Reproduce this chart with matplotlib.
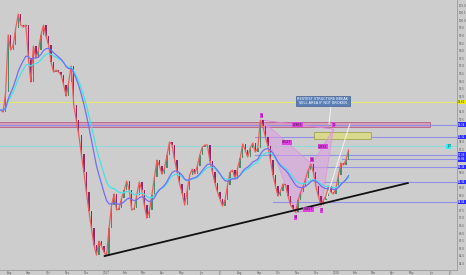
import numpy as np
import pandas as pd
import matplotlib
matplotlib.use('Agg')
import matplotlib.pyplot as plt
import matplotlib.dates as mdates
import matplotlib.transforms as mtrans
from matplotlib.patches import Rectangle, Polygon

# closes every 4 days
closes = [94.09, 93.96, 95.28, 99.03, 98.04, 98.37, 99.49, 100.41, 99.68, 99.55,
          99.68, 97.51, 95.93, 98.30, 97.51, 98.04, 99.03, 99.68, 98.96, 98.37,
          97.25, 96.59, 96.72, 96.59, 96.39, 95.74, 95.01, 95.93, 96.99, 94.42,
          93.43, 92.45, 91.20, 90.01, 88.70, 87.45, 86.33, 85.21, 84.55, 85.47,
          85.14, 84.75, 84.49, 86.33, 87.84, 88.57, 87.51, 87.64, 88.30, 88.83,
          89.42, 88.83, 87.51, 87.64, 88.50, 89.36, 88.83, 87.84, 86.99, 87.51,
          88.50, 89.68, 90.80, 90.41, 89.88, 90.28, 91.13, 91.99, 91.79, 90.80,
          90.01, 89.22, 88.63, 87.84, 88.83, 89.82, 90.21, 89.88, 90.41, 91.13,
          91.66, 91.79, 91.79, 90.74, 90.01, 89.29, 88.70, 88.24, 87.78, 88.17,
          89.16, 90.01, 90.14, 89.55, 90.28, 90.93, 91.86, 91.46, 91.00, 91.59,
          91.92, 91.33, 91.59, 93.43, 93.04, 92.32, 91.72, 90.80, 89.82, 89.09,
          88.43, 88.76, 89.22, 89.16, 88.43, 87.84, 87.58, 87.38, 88.17, 88.70,
          89.09, 89.62, 90.14, 90.54, 90.01, 89.09, 88.43, 87.84, 88.17, 88.43,
          89.09, 88.70, 88.57, 88.96, 89.82, 90.61, 90.47, 90.80, 91.46]
start_date = '2016-07-18'

yellow_level = 94.62
cyan_level = 91.72
band = (92.97, 93.30, '2016-07-10', '2018-05-30')
blue_levels = [93.14, 92.32, 91.16, 90.84, 90.34, 89.36, 88.04]
blue_starts = ['2016-07-10', '2017-08-25', '2017-08-25', '2018-01-10',
               '2017-11-24', '2017-12-11', '2017-09-23']

# harmonic pattern X A B C D
pat_names = ['X', 'A', 'B', 'C', 'D']
pat_dates = ['2017-09-05', '2017-10-29', '2017-11-24', '2017-12-09', '2017-12-28']
pat_prices = [93.43, 87.32, 90.54, 87.78, 92.84]

zone = ('2017-11-27', '2018-02-25', 92.18, 92.64)
trend = (['2016-12-30', '2018-04-25'], [84.49, 89.29])
pointer = (['2017-12-24', '2017-12-21'], [94.36, 93.17])
arrow2 = (['2018-01-23', '2017-12-17'], [93.17, 88.30])
note = ('2017-12-11', 94.68, 'RESTEST STRUCTURE BREAK\nSELL AREA IF NOT BROKEN')

month_labels = ['Aug', 'Sep', 'Oct', 'Nov', 'Dec', '2017', 'Feb', 'Mar', 'Apr', 'May',
                'Jun', 'Jul', 'Aug', 'Sep', 'Oct', 'Nov', 'Dec', '2018', 'Feb', 'Mar',
                'Apr', 'May', 'Jun', 'Jul']


def dn(s):
    return mdates.date2num(pd.Timestamp(s).to_pydatetime())


bg = '#cdcdcd'
fig = plt.figure(figsize=(4.66, 2.75), dpi=100, facecolor=bg)
ax = fig.add_axes([0, 5 / 275, 457 / 466, 270 / 275], facecolor=bg)

dates = pd.date_range(start_date, periods=len(closes), freq='4D')
xd = mdates.date2num(dates.to_pydatetime())
c = np.array(closes)
o = np.r_[c[0], c[:-1]]

x0, x1 = dn('2016-07-17'), dn('2018-07-12')

# horizontal levels
ax.axhline(yellow_level, color='#e8e860', lw=0.7, zorder=1)
ax.axhline(cyan_level, color='#7ee0e0', lw=0.6, zorder=1)
ax.add_patch(Rectangle((dn(band[2]), band[0]), dn(band[3]) - dn(band[2]), band[1] - band[0],
                       facecolor='#d4a0b4', edgecolor='#b86c8c', lw=0.7, zorder=1))
for lv, st in zip(blue_levels, blue_starts):
    ax.plot([dn(st), x1], [lv, lv], color='#9090e8', lw=0.8, zorder=1)

# yellow zone
ax.add_patch(Rectangle((dn(zone[0]), zone[2]), dn(zone[1]) - dn(zone[0]), zone[3] - zone[2],
                       facecolor='#d9d98e', edgecolor='#a8a860', lw=0.7, zorder=2))

# harmonic pattern
px = [dn(d) for d in pat_dates]
pp = pat_prices
ax.add_patch(Polygon([(px[0], pp[0]), (px[1], pp[1]), (px[2], pp[2])], closed=True,
                     facecolor='#dca0e0', edgecolor='#e080e0', alpha=0.6, lw=0.6, zorder=2))
ax.add_patch(Polygon([(px[2], pp[2]), (px[3], pp[3]), (px[4], pp[4])], closed=True,
                     facecolor='#dca0e0', edgecolor='#e080e0', alpha=0.6, lw=0.6, zorder=2))
for a, b in [(0, 4), (1, 3)]:
    ax.plot([px[a], px[b]], [pp[a], pp[b]], color='#e080e0', lw=0.6, zorder=2)

xa = pp[0] - pp[1]
ab = pp[2] - pp[1]
bc = pp[2] - pp[3]
cd = pp[4] - pp[3]
ratios = [((0, 2), ab / xa), ((1, 3), bc / ab), ((2, 4), cd / bc), ((0, 4), (pp[4] - pp[1]) / xa)]
for (a, b), r in ratios:
    ax.text((px[a] + px[b]) / 2, (pp[a] + pp[b]) / 2, f'{r:.3f}', fontsize=2.3,
            color='#202020', ha='center', va='center', zorder=6,
            bbox=dict(boxstyle='square,pad=0.15', fc='#e040e0', ec='none'))
for i, name in enumerate(pat_names):
    dy = 0.28 if i in (0, 2, 4) else -0.28
    ax.text(px[i], pp[i] + dy, name, fontsize=2.3, color='#202020', ha='center', va='center',
            zorder=6, bbox=dict(boxstyle='square,pad=0.2', fc='#e040e0', ec='none'))

# candles
up = c >= o
ax.bar(xd[up], (c - o)[up], bottom=o[up], width=2.2, color='#3f8f6f', zorder=3)
ax.bar(xd[~up], (c - o)[~up], bottom=o[~up], width=2.2, color='#8a2a6a', zorder=3)

# price line and averages
s = pd.Series(c)
ax.plot(xd, c, color='#f25a5a', lw=0.9, zorder=4)
ax.plot(xd, s.ewm(span=20, adjust=False).mean(), color='#48e0e8', lw=0.9, zorder=4)
ax.plot(xd, s.ewm(span=15, adjust=False).mean(), color='#7070f0', lw=0.9, zorder=4)

# trend line
ax.plot([dn(d) for d in trend[0]], trend[1], color='#111111', lw=1.3, zorder=5)

# white arrows / note
ax.plot([dn(d) for d in pointer[0]], pointer[1], color='#f4f4f4', lw=0.7, zorder=5)
ax.plot([dn(d) for d in arrow2[0]], arrow2[1], color='#f4f4f4', lw=0.7, zorder=5)
ax.text(dn(note[0]), note[1], note[2], fontsize=2.5, color='white', ha='center',
        va='center', linespacing=1.0, zorder=7,
        bbox=dict(boxstyle='square,pad=0.35', fc='#5b80b8', ec='#40608f', lw=0.5))

# axes
ax.set_xlim(x0, x1)
ax.set_ylim(83.57, 101.33)
ticks = mdates.date2num(pd.date_range('2016-08-01', periods=len(month_labels), freq='MS').to_pydatetime())
ax.set_xticks(ticks)
ax.set_xticklabels(month_labels)
ax.yaxis.tick_right()

# price scale: labels hidden where a level tag sits on top of them
tag_levels = blue_levels + [yellow_level]
yticks = np.arange(84.0, 101.01, 0.5)
ax.set_yticks(yticks)
ax.set_yticklabels(['' if min(abs(t - l) for l in tag_levels) < 0.3 else f'{t:.1f}'
                    for t in yticks])
ax.tick_params(axis='both', labelsize=2.0, colors='#555555', length=0, pad=1.0)
for side in ['top', 'left']:
    ax.spines[side].set_visible(False)
for side in ['right', 'bottom']:
    ax.spines[side].set_color('#9a9a9a')
    ax.spines[side].set_linewidth(0.6)

# price tags on the right axis
tr = mtrans.blended_transform_factory(ax.transAxes, ax.transData)
for lv in blue_levels:
    ax.text(1.002, lv, f'{lv:.2f}', transform=tr, fontsize=1.9, color='white', va='center',
            ha='left', zorder=8, clip_on=False,
            bbox=dict(boxstyle='square,pad=0.12', fc='#2a2aff', ec='none'))
ax.text(1.002, yellow_level, f'{yellow_level:.2f}', transform=tr, fontsize=1.9, color='#333333',
        va='center', ha='left', zorder=8, clip_on=False,
        bbox=dict(boxstyle='square,pad=0.12', fc='#f0f000', ec='none'))
ax.text(0.978, cyan_level, 'JXY', transform=tr, fontsize=1.9, color='#333333', va='center',
        ha='left', zorder=8, bbox=dict(boxstyle='square,pad=0.2', fc='#30f0f0', ec='none'))

fig.savefig('out.png', dpi=100, facecolor=bg)
